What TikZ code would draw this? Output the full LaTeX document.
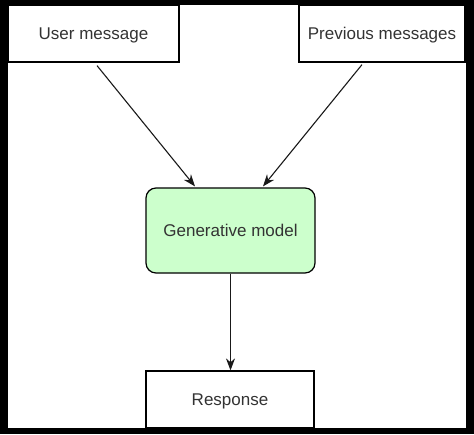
\documentclass[tikz,border=0pt]{standalone}
\usepackage{fontspec}
\setmainfont{Liberation Sans}
\usetikzlibrary{arrows.meta,calc}
\definecolor{txt}{HTML}{333333}
\definecolor{genfill}{HTML}{CCFFCC}
\tikzset{
  box/.style={draw=black, line width=1.2pt, fill=white, inner sep=0pt, font=\fontsize{17}{20}\selectfont, text=txt, text height=12.2pt, text depth=0pt},
  genbox/.style={box, fill=genfill, rounded corners=10pt},
  conn/.style={draw=black!90, line width=1.1pt, -{Stealth[length=12pt,width=9pt]}}
}
\begin{document}
\begin{tikzpicture}[x=1pt,y=-1pt]
  \fill[black] (0,0) rectangle (474,434);
  \fill[white] (8,5) rectangle (466,428);
  \useasboundingbox (0,0) rectangle (474,434);
  \node[box, minimum width=171pt, minimum height=57pt] (um) at (93.5,33.5) {User message};
  \node[box, minimum width=166pt, minimum height=57pt] (pm) at (382,33.5) {Previous messages};
  \node[genbox, minimum width=169pt, minimum height=85pt] (gen) at (230.5,230.5) {Generative model};
  \node[box, minimum width=168pt, minimum height=57pt] (resp) at (230,399.5) {Response};
  \draw[conn] ($(um.south)+(3.5,3)$) -- ($(gen.north)+(-35.5,-1)$);
  \draw[conn] ($(pm.south)+(-20,2)$) -- ($(gen.north)+(32.5,-1)$);
  \draw[conn] (gen.south) -- (gen.south |- resp.north);
\end{tikzpicture}
\end{document}
